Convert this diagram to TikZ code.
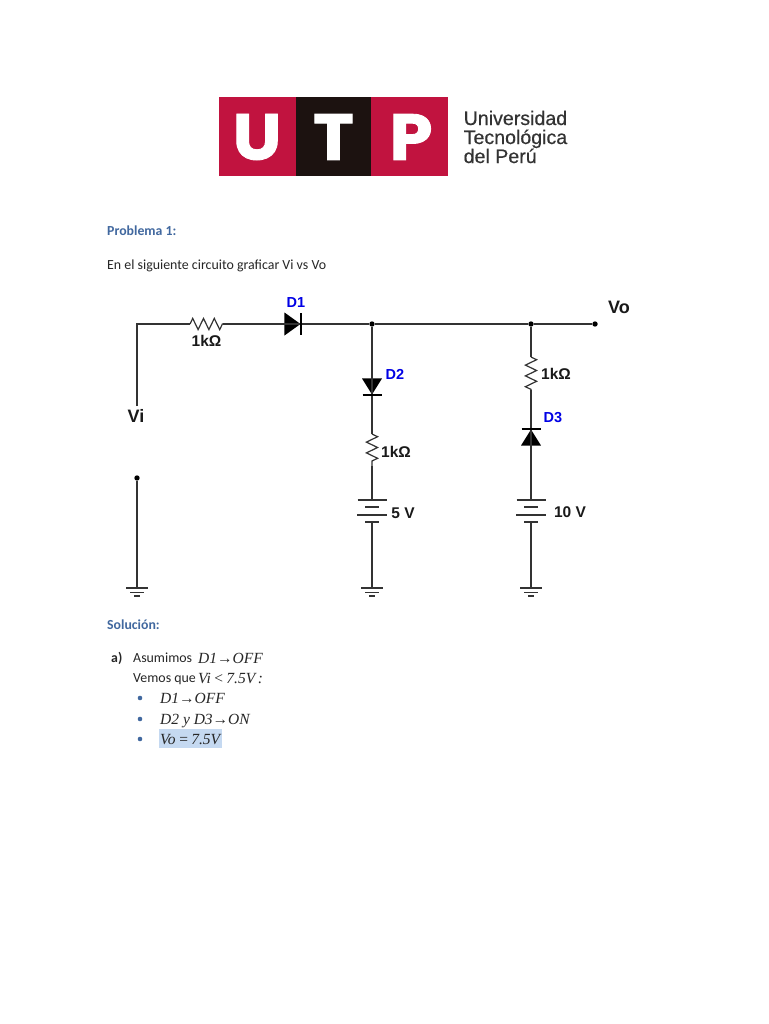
\documentclass[tikz,border=0pt]{standalone}
\usepackage{fontspec}
\setmainfont{Carlito}
\newfontfamily\sanslabel{Liberation Sans}
\newfontfamily\logosans[FakeBold=0.5]{Liberation Sans}
\newfontfamily\mathlike{Liberation Serif}
\newfontfamily\logofont[FakeBold=1.4,FakeStretch=1.06]{Poppins}
\usetikzlibrary{shapes.geometric,decorations.pathmorphing}
\definecolor{utpred}{HTML}{C1133F}
\definecolor{utpblack}{HTML}{1C1210}
\definecolor{headblue}{HTML}{41689F}
\definecolor{hilite}{HTML}{C5D9F1}
\tikzset{
  wire/.style={draw=black!80,line width=1.4pt},
  res/.style={wire,line width=1.2pt,decorate,decoration={zigzag,segment length=10.8pt,amplitude=5.6pt}},
  dot/.style={circle,fill=black,inner sep=0pt,minimum size=5.4pt},
  diode/.style={isosceles triangle,isosceles triangle stretches,fill=black,inner sep=0pt,minimum height=16pt,minimum width=20pt,anchor=apex},
  bar/.style={draw=black,line width=1.5pt},
  cirlabel/.style={font=\sanslabel\bfseries\fontsize{15.5}{17}\selectfont,text=black!90,inner sep=0pt},
  devlabel/.style={font=\sanslabel\fontsize{14.5}{16}\selectfont\bfseries,text=blue!90!black,inner sep=0pt},
  bigk/.style={font=\sanslabel\bfseries\fontsize{18}{20}\selectfont,text=black!90,inner sep=0pt},
  body/.style={font=\fontsize{13.9}{16}\selectfont,text=black!85,anchor=west,inner sep=0pt},
  head/.style={body,font=\bfseries\fontsize{13.8}{16}\selectfont,text=headblue},
  eqn/.style={font=\mathlike\itshape\fontsize{15.5}{17}\selectfont,text=black!85,anchor=west,inner sep=0pt,text height=13.5pt,text depth=3.5pt},
  bulletdot/.style={circle,fill=headblue,inner sep=0pt,minimum size=4.6pt},
  logoletter/.style={font=\logofont\bfseries\fontsize{65}{65}\selectfont,text=white,inner sep=0pt},
  logotext/.style={font=\logosans\fontsize{19.6}{19}\selectfont,text=black!80,anchor=west,inner sep=0pt,align=left},
  gnd/.pic={
    \draw[wire] (-11,0) -- (11,0);
    \draw[wire] (-7,4.5) -- (7,4.5);
    \draw[wire] (-3,8) -- (3,8);
  },
  battery/.pic={
    \draw[wire] (-14.5,0) -- (14.5,0);
    \draw[wire] (-7,7) -- (7,7);
    \draw[wire] (-15,15) -- (15,15);
    \draw[wire] (-7,22) -- (7,22);
  }
}
\begin{document}
\begin{tikzpicture}[x=1pt,y=-1pt]
  \useasboundingbox[fill=white] (0,0) rectangle (768,1024);
  % logo
  \fill[utpred] (219,97) rectangle (448,176);
  \fill[utpblack] (296,97) rectangle (371,176);
  \node[logoletter] (logoU) at (257,137) {U};
  \node[logoletter] (logoT) at (333.5,137) {T};
  \node[logoletter] (logoP) at (411,137) {P};
  \node[logotext] (uni) at (463.5,137) {Universidad\\Tecnológica\\del Perú};
  % text above
  \node[head] (prob) at (107,231) {Problema 1:};
  \node[body] (enun) at (107,265.5) {En el siguiente circuito graficar Vi vs Vo};
  % circuit
  \coordinate (corner) at (137,324);
  \coordinate (viEnd) at (137,406);
  \node[dot] (viDot) at (137,478) {};
  \coordinate (R1a) at (190,324);
  \coordinate (R1b) at (223,324);
  \node[diode,shape border rotate=0,minimum width=23pt] (D1) at (301,324) {};
  \node[dot] (J1) at (372,324) {};
  \node[dot] (J2) at (531,324) {};
  \node[dot] (voDot) at (595,324) {};
  \node[diode,shape border rotate=270] (D2) at (372,395) {};
  \coordinate (R2a) at (372,434);
  \coordinate (R2b) at (372,466);
  \coordinate (B1a) at (372,500);
  \coordinate (B1b) at (372,522);
  \coordinate (G1) at (137,588);
  \coordinate (G2) at (372,588);
  \coordinate (G3) at (531,588);
  \coordinate (R3a) at (531,357);
  \coordinate (R3b) at (531,390);
  \node[diode,shape border rotate=90] (D3) at (531,429) {};
  \coordinate (B2a) at (531,500);
  \coordinate (B2b) at (531,522);
  \draw[wire] (viEnd) -- (corner) -- (R1a);
  \draw[wire] (R1b) -- (D1.apex);
  \draw[wire] (D1.apex) -- (J1);
  \draw[wire] (J1) -- (J2);
  \draw[wire] (J2) -- (voDot);
  \draw[wire] (viDot) -- (G1);
  \draw[wire] (J1) -- (D2.apex);
  \draw[wire] (D2.apex) -- (R2a);
  \draw[wire] (R2b) -- (B1a);
  \draw[wire] (B1b) -- (G2);
  \draw[wire] (J2) -- (R3a);
  \draw[wire] (R3b) -- (D3.apex);
  \draw[wire] (D3.apex) -- (B2a);
  \draw[wire] (B2b) -- (G3);
  \draw[res] (R1a) -- (R1b);
  \draw[res] (R2a) -- (R2b);
  \draw[res] (R3a) -- (R3b);
  \draw[bar] (301,313) -- (301,335);
  \draw[bar] (362.5,395) -- (381.5,395);
  \draw[bar] (521.5,429) -- (540.5,429);
  \pic at (B1a) {battery};
  \pic at (B2a) {battery};
  \pic at (G1) {gnd};
  \pic at (G2) {gnd};
  \pic at (G3) {gnd};
  \node[devlabel] (lD1) at (296,303) {D1};
  \node[devlabel] (lD2) at (395,374) {D2};
  \node[devlabel] (lD3) at (553,418) {D3};
  \node[cirlabel] (lR1) at (206.5,341) {1kΩ};
  \node[cirlabel] (lR2) at (396,452) {1kΩ};
  \node[cirlabel] (lR3) at (556,374) {1kΩ};
  \node[cirlabel] (lB1) at (403,513) {5 V};
  \node[cirlabel] (lB2) at (570,512) {10 V};
  \node[bigk] (lVi) at (136,416) {Vi};
  \node[bigk] (lVo) at (619,307) {Vo};
  % solution
  \node[head] (sol) at (107,625) {Solución:};
  \node[body,font=\bfseries\fontsize{13.8}{16}\selectfont] (itemA) at (111,658) {a)};
  \node[body] (asu) at (133,658) {Asumimos};
  \node[eqn] (asuE) at (198,658) {D1→OFF};
  \node[body] (vem) at (133,679) {Vemos que};
  \node[eqn] (vemE) at (198,678) {Vi\,<\,7.5V\,:};
  \fill[hilite] (159,729) rectangle (222,748);
  \foreach \y/\txt in {698/D1→OFF,719/D2 y D3→ON,739/Vo\,=\,7.5V} {
    \node[bulletdot] (b\y) at (140,\y) {};
    \node[eqn] (e\y) at (160,\y) {\txt};
  }
\end{tikzpicture}
\end{document}
